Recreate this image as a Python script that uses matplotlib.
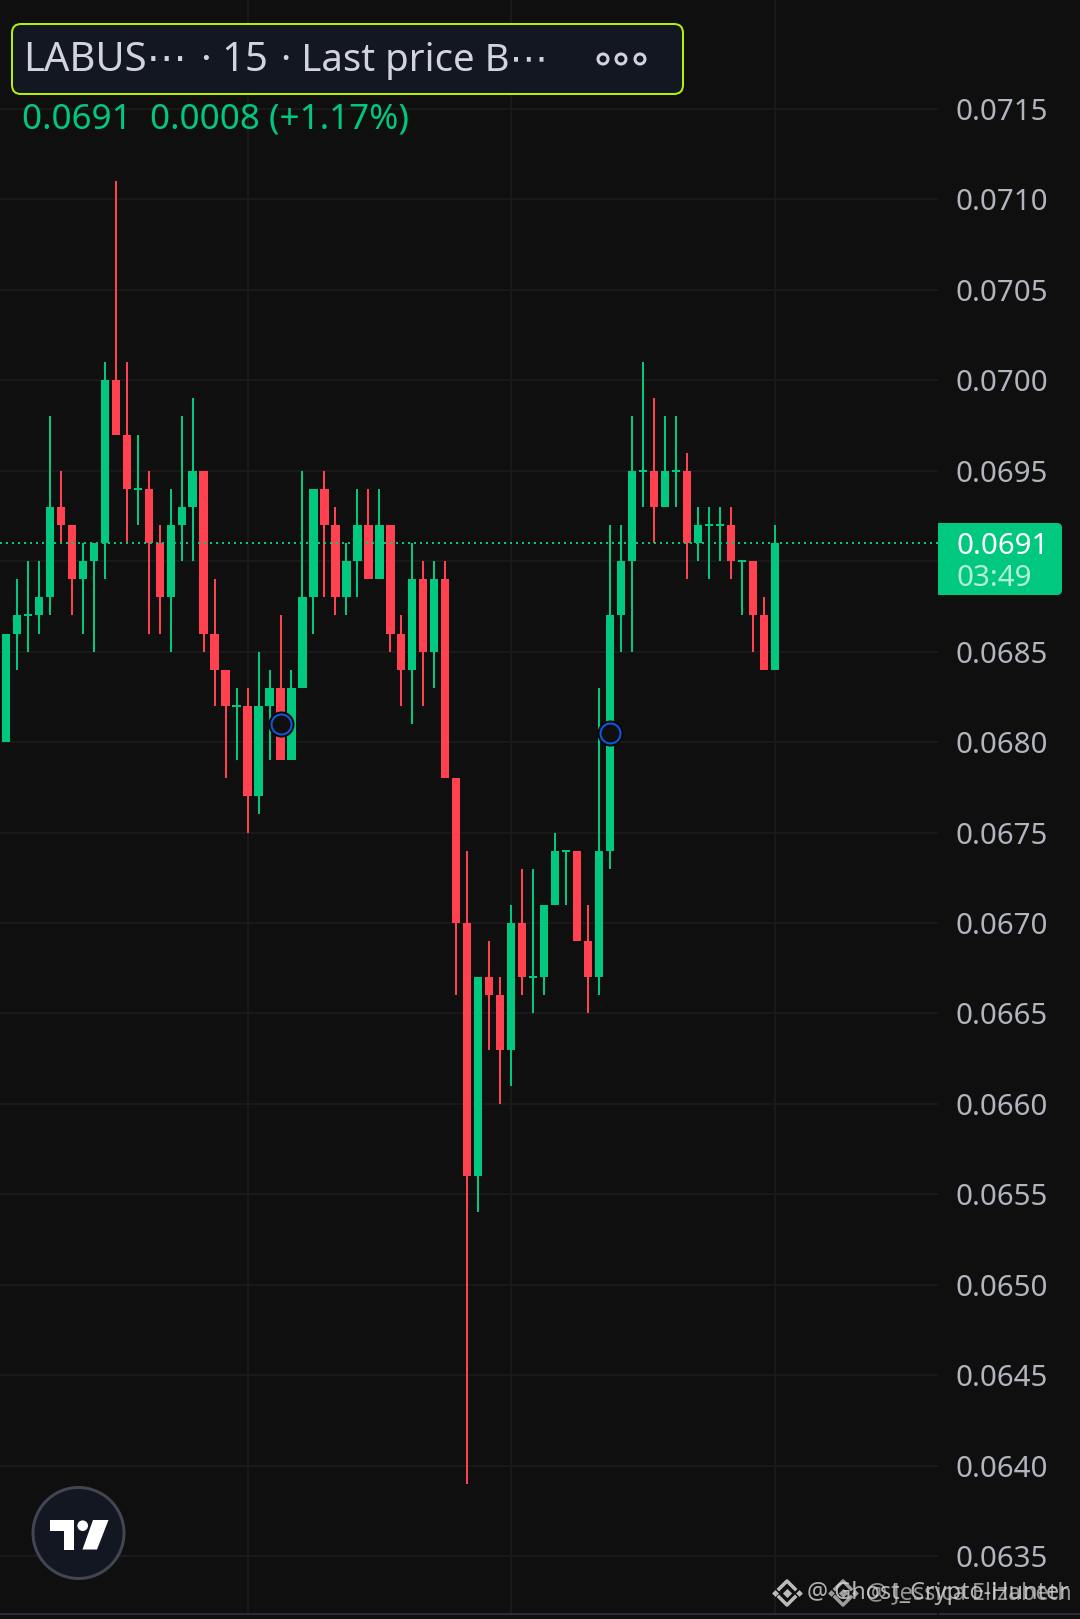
import matplotlib
matplotlib.use('Agg')
import matplotlib.pyplot as plt
from matplotlib.patches import FancyBboxPatch, Circle, Polygon

plt.rcParams['font.family'] = ['Noto Sans', 'DejaVu Sans']

opens = [0.0680, 0.0686, 0.0687, 0.0687, 0.0688, 0.0693, 0.0692, 0.0689, 0.0690, 0.0691, 0.0700, 0.0697,
         0.0694, 0.0694, 0.0691, 0.0688, 0.0692, 0.0693, 0.0695, 0.0686, 0.0684, 0.0682, 0.0682, 0.0677,
         0.0682, 0.0683, 0.0679, 0.0683, 0.0688, 0.0694, 0.0692, 0.0688, 0.0690, 0.0692, 0.0689, 0.0692,
         0.0686, 0.0684, 0.0689, 0.0685, 0.0689, 0.0678, 0.0670, 0.0656, 0.0667, 0.0666, 0.0663, 0.0670,
         0.0667, 0.0667, 0.0671, 0.0674, 0.0674, 0.0669, 0.0667, 0.0674, 0.0687, 0.0690, 0.0695, 0.0695,
         0.0693, 0.0695, 0.0695, 0.0691, 0.0692, 0.0692, 0.0692, 0.0690, 0.0690, 0.0687, 0.0684]
closes = [0.0686, 0.0687, 0.0687, 0.0688, 0.0693, 0.0692, 0.0689, 0.0690, 0.0691, 0.0700, 0.0697, 0.0694,
          0.0694, 0.0691, 0.0688, 0.0692, 0.0693, 0.0695, 0.0686, 0.0684, 0.0682, 0.0682, 0.0677, 0.0682,
          0.0683, 0.0679, 0.0683, 0.0688, 0.0694, 0.0692, 0.0688, 0.0690, 0.0692, 0.0689, 0.0692, 0.0686,
          0.0684, 0.0689, 0.0685, 0.0689, 0.0678, 0.0670, 0.0656, 0.0667, 0.0666, 0.0663, 0.0670, 0.0667,
          0.0667, 0.0671, 0.0674, 0.0674, 0.0669, 0.0667, 0.0674, 0.0687, 0.0690, 0.0695, 0.0695, 0.0693,
          0.0695, 0.0695, 0.0691, 0.0692, 0.0692, 0.0692, 0.0690, 0.0690, 0.0687, 0.0684, 0.0691]
highs = [0.0686, 0.0689, 0.0690, 0.0690, 0.0698, 0.0695, 0.0692, 0.0691, 0.0691, 0.0701, 0.0711, 0.0701,
         0.0697, 0.0695, 0.0692, 0.0694, 0.0698, 0.0699, 0.0695, 0.0689, 0.0684, 0.0683, 0.0683, 0.0685,
         0.0684, 0.0687, 0.0684, 0.0695, 0.0694, 0.0695, 0.0693, 0.0691, 0.0694, 0.0694, 0.0694, 0.0692,
         0.0687, 0.0691, 0.0690, 0.0690, 0.0690, 0.0678, 0.0674, 0.0667, 0.0669, 0.0667, 0.0671, 0.0673,
         0.0673, 0.0671, 0.0675, 0.0674, 0.0674, 0.0671, 0.0683, 0.0692, 0.0692, 0.0698, 0.0701, 0.0699,
         0.0698, 0.0698, 0.0696, 0.0693, 0.0693, 0.0693, 0.0693, 0.0690, 0.0690, 0.0688, 0.0692]
lows = [0.0680, 0.0684, 0.0685, 0.0686, 0.0687, 0.0691, 0.0687, 0.0686, 0.0685, 0.0689, 0.0697, 0.0691,
        0.0692, 0.0686, 0.0686, 0.0685, 0.0690, 0.0690, 0.0685, 0.0682, 0.0678, 0.0679, 0.0675, 0.0676,
        0.0679, 0.0679, 0.0679, 0.0683, 0.0686, 0.0688, 0.0687, 0.0687, 0.0688, 0.0689, 0.0689, 0.0685,
        0.0682, 0.0681, 0.0682, 0.0683, 0.0678, 0.0666, 0.0639, 0.0654, 0.0663, 0.0660, 0.0661, 0.0666,
        0.0665, 0.0666, 0.0671, 0.0671, 0.0669, 0.0665, 0.0666, 0.0673, 0.0685, 0.0685, 0.0693, 0.0691,
        0.0693, 0.0693, 0.0689, 0.0690, 0.0689, 0.0690, 0.0689, 0.0687, 0.0685, 0.0684, 0.0684]

yTicks = [0.0635, 0.0640, 0.0645, 0.0650, 0.0655, 0.0660, 0.0665, 0.0670, 0.0675,
          0.0680, 0.0685, 0.0690, 0.0695, 0.0700, 0.0705, 0.0710, 0.0715]
xGrid = [22, 46, 70]
markerCandles = [25, 55]
markerPrices = [0.0681, 0.06805]
lastPrice = 0.0691

bg = '#0F0F0F'
green = '#00C97F'
red = '#FF4150'
gridCol = '#191919'
labelCol = '#B2B5BE'
boxCol = '#131722'
markCol = '#DADADA'

fig = plt.figure(figsize=(10.8, 16.19), dpi=100, facecolor=bg)
ax = fig.add_axes([0, 5 / 1619, 938 / 1080, 1614 / 1619], facecolor=bg)

# 1 px in points at this dpi
px = 0.72

x = list(range(len(opens)))
colors = [red if c < o else green for (o, c) in zip(opens, closes)]

ax.vlines(x, lows, highs, colors=colors, linewidth=2 * px, zorder=2)
for i in x:
    if opens[i] == closes[i]:
        ax.hlines(opens[i], i - 0.375, i + 0.375, colors=colors[i], linewidth=2 * px, zorder=3)
    else:
        ax.bar(i, abs(closes[i] - opens[i]), bottom=min(opens[i], closes[i]), width=0.75,
               color=colors[i], linewidth=0, zorder=3)

ax.axhline(lastPrice, color=green, linewidth=2 * px, linestyle=(0, (1, 2)), zorder=4)

ax.scatter(markerCandles, markerPrices, s=(26 * px) ** 2, color='#070707', linewidth=0, zorder=5)
ax.scatter(markerCandles, markerPrices, s=(20 * px) ** 2, facecolor=bg, edgecolor='#1158E0',
           linewidth=2 * px, zorder=6)

ax.set_xlim(-0.53, 84.84)
ax.set_ylim(0.06318, 0.072102)
ax.set_xticks(xGrid)
ax.set_xticklabels([])
ax.set_yticks(yTicks)
# the 0.0690 label sits under the last price tag in the app, so it is left out
ax.set_yticklabels(['' if t == 0.0690 else '%.4f' % t for t in yTicks])
ax.yaxis.tick_right()
ax.tick_params(axis='y', length=0, pad=12.3, labelsize=21.2, labelcolor=labelCol)
ax.tick_params(axis='x', length=0)
ax.grid(True, color=gridCol, linewidth=2 * px, zorder=0)
ax.set_axisbelow(True)
for s in ax.spines.values():
    s.set_visible(False)

# overlay in pixel coordinates for the app interface parts
ui = fig.add_axes([0, 0, 1, 1])
ui.set_xlim(0, 1080)
ui.set_ylim(1619, 0)
ui.axis('off')

ui.add_patch(FancyBboxPatch((12, 24), 671, 70, boxstyle='round,pad=0,rounding_size=9',
                            facecolor=boxCol, edgecolor='#B4F000', linewidth=2 * px))
ui.text(23.5, 61, 'LABUS\u22ef', color='#D1D4DC', fontsize=28.8, va='center', ha='left')
ui.text(201, 61, '\u00b7 15', color='#D1D4DC', fontsize=28.8, va='center', ha='left')
ui.text(281, 61, '\u00b7 Last price B\u22ef', color='#D1D4DC', fontsize=27.6, va='center', ha='left')
for cx in [603, 621, 640]:
    ui.add_patch(Circle((cx, 59), 5, facecolor='none', edgecolor='#D1D4DC', linewidth=3 * px))
ui.text(22.5, 120, '0.0691  0.0008 (+1.17%)', color=green, fontsize=25.2, va='center', ha='left')

ui.add_patch(FancyBboxPatch((938, 523), 124, 72, boxstyle='round,pad=0,rounding_size=5',
                            facecolor=green, linewidth=0))
ui.fill_between([938, 950], 523, 595, color=green, linewidth=0)
ui.text(957, 546, '0.0691', color='white', fontsize=21.2, va='center', ha='left')
ui.text(957, 578, '03:49', color='#B5EEDB', fontsize=21.2, va='center', ha='left')

ui.plot([0, 936], [1614, 1614], color='#2A2E39', linewidth=2 * px)
ui.plot([940, 1080], [1614, 1614], color='#2A2E39', linewidth=2 * px)

# tradingview badge
ui.add_patch(Circle((78.5, 1533), 45.5, facecolor=boxCol, edgecolor='#434651', linewidth=3 * px))
ui.add_patch(Polygon([(50, 1520), (74, 1520), (74, 1549.5), (63.5, 1549.5), (63.5, 1530.5), (50, 1530.5)],
                     facecolor='white', linewidth=0))
ui.add_patch(Circle((82.7, 1525.7), 5.3, facecolor='white', linewidth=0))
ui.add_patch(Polygon([(93, 1520), (108.5, 1520), (97, 1549.5), (82.5, 1549.5)], facecolor='white', linewidth=0))


def binanceMark(cx, cy, alpha):
    ui.scatter([cx], [cy], s=22, marker='D', color=markCol, alpha=alpha, linewidth=0)
    ui.scatter([cx - 12, cx + 12], [cy, cy], s=12, marker='D', color=markCol, alpha=alpha, linewidth=0)
    ui.plot([cx - 8, cx, cx + 8], [cy - 4, cy - 12, cy - 4], color=markCol, alpha=alpha, linewidth=3.5 * px)
    ui.plot([cx - 8, cx, cx + 8], [cy + 4, cy + 12, cy + 4], color=markCol, alpha=alpha, linewidth=3.5 * px)


binanceMark(787, 1593, 0.85)
binanceMark(843, 1593, 0.7)
ui.text(807, 1593, '@ Ghost_Crypto-Hunter', color=markCol, alpha=0.8, fontsize=16.9, va='center', ha='left')
ui.text(866, 1593, '@ Jessica Elizabeth', color=markCol, alpha=0.65, fontsize=16.9, va='center', ha='left')

fig.savefig('out.png', dpi=100, facecolor=bg)
